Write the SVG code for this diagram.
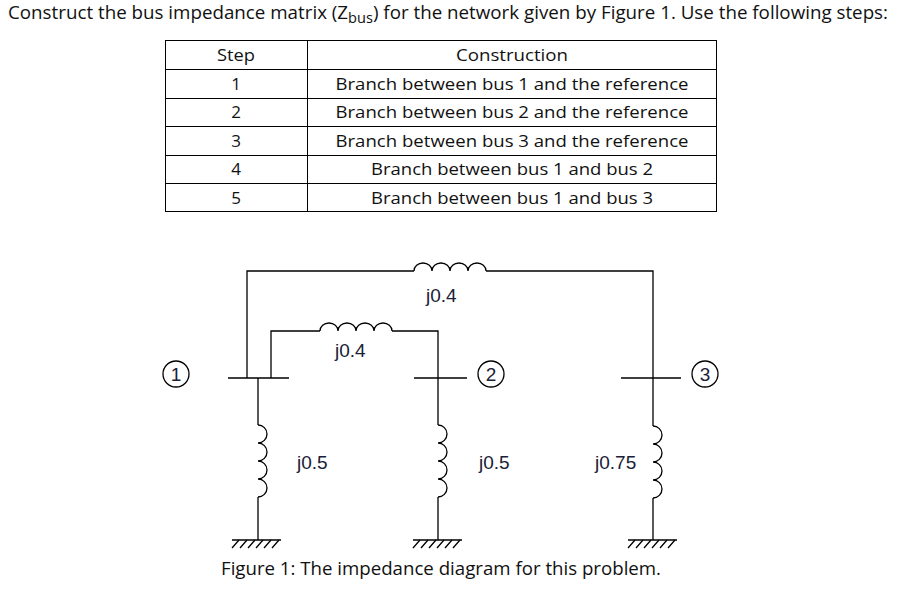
<svg xmlns="http://www.w3.org/2000/svg" width="920" height="590" viewBox="0 0 920 590">
<style>
.w{stroke:#000;stroke-width:1.3;fill:none}
.t{font-family:"Open Sans","Liberation Sans",sans-serif;font-size:17px;fill:#111}
.l{font-family:"Liberation Sans",Arial,sans-serif;font-size:19px;fill:#1a2035}
</style>
<defs>
<path id="hc" class="w" d="M0,0 a9,8 0 0 1 18,0 a9,8 0 0 1 18,0 a9,8 0 0 1 18,0 a9,8 0 0 1 18,0"/>
<path id="vc" class="w" d="M0,0 a9,9 0 0 1 0,18 a9,9 0 0 1 0,18 a9,9 0 0 1 0,18 a9,9 0 0 1 0,18"/>
<g id="gnd" class="w"><line x1="-25" y1="0" x2="24" y2="0"/><path d="M-18,0l-7,8M-10,0l-7,8M-2,0l-7,8M6,0l-7,8M14,0l-7,8M22,0l-7,8"/></g>
</defs>
<rect width="920" height="590" fill="#fff"/>
<text x="8" y="19" class="t" style="font-size:18px" textLength="880" lengthAdjust="spacingAndGlyphs">Construct the bus impedance matrix (Z<tspan font-size="14" dy="4">bus</tspan><tspan dy="-4">) for the network given by Figure 1. Use the following steps:</tspan></text>
<g id="table">
<rect x="165.5" y="40.5" width="551" height="171" fill="none" stroke="#000" stroke-width="1"/>
<path d="M307.5,40.5V211.5M165,69.5H717M165,98.5H717M165,126.5H717M165,155.5H717M165,183.5H717" stroke="#000" stroke-width="1"/>
<g class="t" text-anchor="middle">
<text x="236" y="61" textLength="38" lengthAdjust="spacingAndGlyphs">Step</text><text x="512" y="61" textLength="112" lengthAdjust="spacingAndGlyphs">Construction</text>
<text x="236" y="90">1</text><text x="512" y="90" textLength="353" lengthAdjust="spacingAndGlyphs">Branch between bus 1 and the reference</text>
<text x="236" y="118">2</text><text x="512" y="118" textLength="353" lengthAdjust="spacingAndGlyphs">Branch between bus 2 and the reference</text>
<text x="236" y="147">3</text><text x="512" y="147" textLength="353" lengthAdjust="spacingAndGlyphs">Branch between bus 3 and the reference</text>
<text x="236" y="175">4</text><text x="512" y="175" textLength="282" lengthAdjust="spacingAndGlyphs">Branch between bus 1 and bus 2</text>
<text x="236" y="204">5</text><text x="512" y="204" textLength="282" lengthAdjust="spacingAndGlyphs">Branch between bus 1 and bus 3</text>
</g>
</g>
<g id="connectors">
<path class="w" d="M247,378V271H414M486,271H653V426"/>
<use href="#hc" x="414" y="271"/>
<path class="w" d="M271,378V331H320M392,331H438V425"/>
<use href="#hc" x="320" y="331"/>
<path class="w" d="M258,378V425M258,497V540M438,497V540M653,498V540"/>
<use href="#vc" x="258" y="425"/>
<use href="#vc" x="438" y="425"/>
<use href="#vc" x="653" y="426"/>
</g>
<g id="bus1"><line class="w" x1="228" y1="378" x2="289" y2="378"/><circle class="w" cx="176" cy="374" r="13"/><text class="l" x="176" y="381" text-anchor="middle">1</text></g>
<g id="bus2"><line class="w" x1="414" y1="378" x2="467" y2="378"/><circle class="w" cx="491" cy="374" r="13"/><text class="l" x="491" y="381" text-anchor="middle">2</text></g>
<g id="bus3"><line class="w" x1="621" y1="378" x2="681" y2="378"/><circle class="w" cx="705" cy="374" r="13"/><text class="l" x="705" y="381" text-anchor="middle">3</text></g>
<g id="grounds"><use href="#gnd" x="257" y="540"/><use href="#gnd" x="438" y="540"/><use href="#gnd" x="653" y="540"/></g>
<g class="l">
<text x="426" y="302">j0.4</text>
<text x="335" y="357">j0.4</text>
<text x="297" y="469">j0.5</text>
<text x="479" y="469">j0.5</text>
<text x="595" y="469">j0.75</text>
</g>
<text class="t" x="221" y="575" style="font-size:18px" textLength="440" lengthAdjust="spacingAndGlyphs">Figure 1: The impedance diagram for this problem.</text>
</svg>
